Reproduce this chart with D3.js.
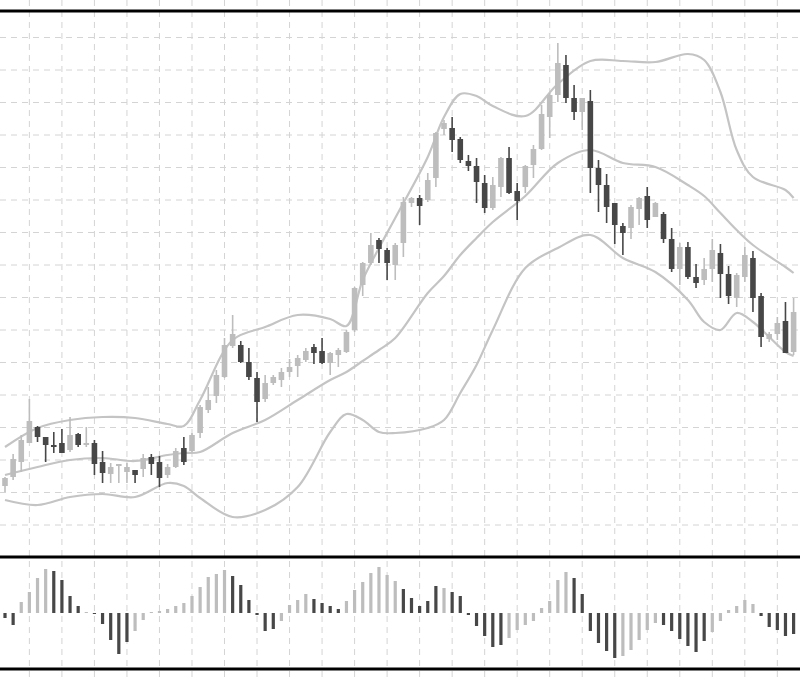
<!DOCTYPE html>
<html><head><meta charset="utf-8">
<script src="https://cdn.jsdelivr.net/npm/d3@7"></script>
<style>body{margin:0;background:#fff}</style>
</head><body><svg id="c" width="800" height="680"></svg>
<script>
const open=[114,123,138,157,173,163,155,157,150,166,155,157,138,126,134,128,130,131,143,138,125,133,152,149,167,190,204,223,254,255,238,222,201,217,220,228,234,240,253,249,237,245,248,270,315,337,360,350,335,357,397,402,400,422,471,472,461,439,434,417,392,413,442,409,413,435,451,483,505,535,502,488,499,432,415,397,374,372,391,404,383,386,361,331,353,323,320,331,347,326,302,323,342,304,261,266,279,248];
const high=[123,146,165,201,174,163,168,171,183,167,173,160,149,137,136,137,130,146,146,144,136,152,163,167,195,213,230,262,285,259,252,228,225,225,232,241,245,252,256,262,248,252,270,313,338,367,362,352,357,403,403,405,427,468,480,483,463,445,442,425,423,443,453,417,435,455,495,507,557,545,515,502,510,440,426,397,377,395,403,413,398,388,372,357,358,336,342,361,356,334,327,353,349,307,268,283,298,302];
const low=[108,120,128,157,158,138,147,147,148,153,153,125,117,117,117,117,117,123,125,113,122,132,135,148,162,187,197,222,252,237,220,178,198,215,213,223,223,238,236,236,225,233,247,268,304,335,337,320,320,343,393,375,398,413,465,448,437,429,397,387,390,403,406,380,407,422,450,462,498,497,480,470,407,388,377,356,345,361,375,372,383,357,328,315,321,312,315,318,302,296,293,318,288,253,258,260,247,245];
const close=[122,141,160,179,163,155,153,147,165,155,157,136,127,133,136,133,125,142,136,122,133,149,138,165,193,200,225,255,266,238,223,198,217,223,228,233,242,249,247,237,247,250,268,312,337,355,351,337,355,398,402,394,420,467,477,460,440,434,418,392,415,442,407,399,434,451,486,505,537,502,488,502,432,415,393,375,367,393,402,380,397,361,331,353,323,317,331,350,326,304,325,345,302,263,266,277,247,288];
const bandIdx=[0,4,8,12,16,20,22,24,28,32,36,40,42,44,46,48,52,54,56,58,60,64,68,72,76,80,84,86,88,90,92,96,97];
const upper=[153,172,180,183,182,176,174,200,260,273,285,281,274,320,352,382,443,483,506,504,494,484,516,539,539,538,546,540,508,450,423,410,402];
const middle=[125,133,140,142,139,145,147,148,167,180,200,220,228,239,250,262,307,324,345,362,378,404,437,450,437,433,415,404,387,370,355,333,327];
const lower=[100,95,103,106,103,117,114,102,83,90,113,168,186,180,168,167,172,180,207,235,270,332,352,365,342,328,300,278,270,287,278,248,244];
const hist=[-5,-12,11,21,35,44,42,33,17,7,1,-1,-11,-27,-41,-29,-18,-7,1,2,4,7,10,17,26,36,39,43,37,28,13,-2,-18,-16,-8,8,13,19,14,10,7,4,12,23,31,40,46,38,32,24,15,7,12,27,25,21,17,-2,-13,-23,-34,-32,-25,-17,-12,-8,5,12,33,41,35,19,-18,-30,-38,-45,-43,-37,-27,-17,-10,-12,-18,-26,-33,-39,-28,-19,-8,3,7,13,9,-3,-14,-17,-23,-21];
const histTone="ddllllddddldddddllllllllllllddddddllllddddllllllldddddldddddddllllllllddddddlllllddddddlllllldddddl";

const svg=d3.select("#c");
const x=d3.scaleLinear().domain([0,97]).range([5,793.6]);
const y=d3.scaleLinear().domain([43,589]).range([557,11]);
const yh=d3.scaleLinear().domain([-56,56]).range([669,557]);
const LIGHT="#bdbdbd",DARK="#474747";

// grid
const vIdx=d3.range(3,100,4);
svg.append("g").selectAll("line").data(vIdx).join("line")
 .attr("x1",d=>x(d)).attr("x2",d=>x(d)).attr("y1",0).attr("y2",680)
 .attr("stroke","#d4d4d4").attr("stroke-dasharray","6,5");
const hP=d3.range(75,590,32.5);
svg.append("g").selectAll("line").data(hP).join("line")
 .attr("x1",0).attr("x2",800).attr("y1",d=>y(d)).attr("y2",d=>y(d))
 .attr("stroke","#d4d4d4").attr("stroke-dasharray","6,5");

// bands
const line=d3.line().x((d,i)=>x(bandIdx[i])).y(d=>y(d)).curve(d3.curveCatmullRom.alpha(0.5));
[upper,middle,lower].forEach(b=>svg.append("path").attr("d",line(b)).attr("fill","none").attr("stroke","#c4c4c4").attr("stroke-width",2.2));

// candles
const idx=d3.range(open.length);
const g=svg.append("g");
g.selectAll("line").data(idx).join("line")
 .attr("x1",i=>x(i)).attr("x2",i=>x(i)).attr("y1",i=>y(high[i])).attr("y2",i=>y(low[i]))
 .attr("stroke",i=>close[i]>=open[i]?LIGHT:DARK).attr("stroke-width",1.6);
g.selectAll("rect").data(idx).join("rect")
 .attr("x",i=>x(i)-2.8).attr("width",5.6)
 .attr("y",i=>y(Math.max(open[i],close[i])))
 .attr("height",i=>Math.max(1.5,Math.abs(y(open[i])-y(close[i]))))
 .attr("fill",i=>close[i]>=open[i]?LIGHT:DARK);

// histogram
svg.append("g").selectAll("rect").data(hist).join("rect")
 .attr("x",(d,i)=>x(i)-1.6).attr("width",3.2)
 .attr("y",d=>yh(Math.max(0,d))).attr("height",d=>Math.max(1,Math.abs(yh(d)-yh(0))))
 .attr("fill",(d,i)=>histTone[i]==="l"?LIGHT:DARK);

// frame lines
[11,557,669].forEach(v=>svg.append("line").attr("x1",0).attr("x2",800).attr("y1",v).attr("y2",v).attr("stroke","#000").attr("stroke-width",3));
</script></body></html>
